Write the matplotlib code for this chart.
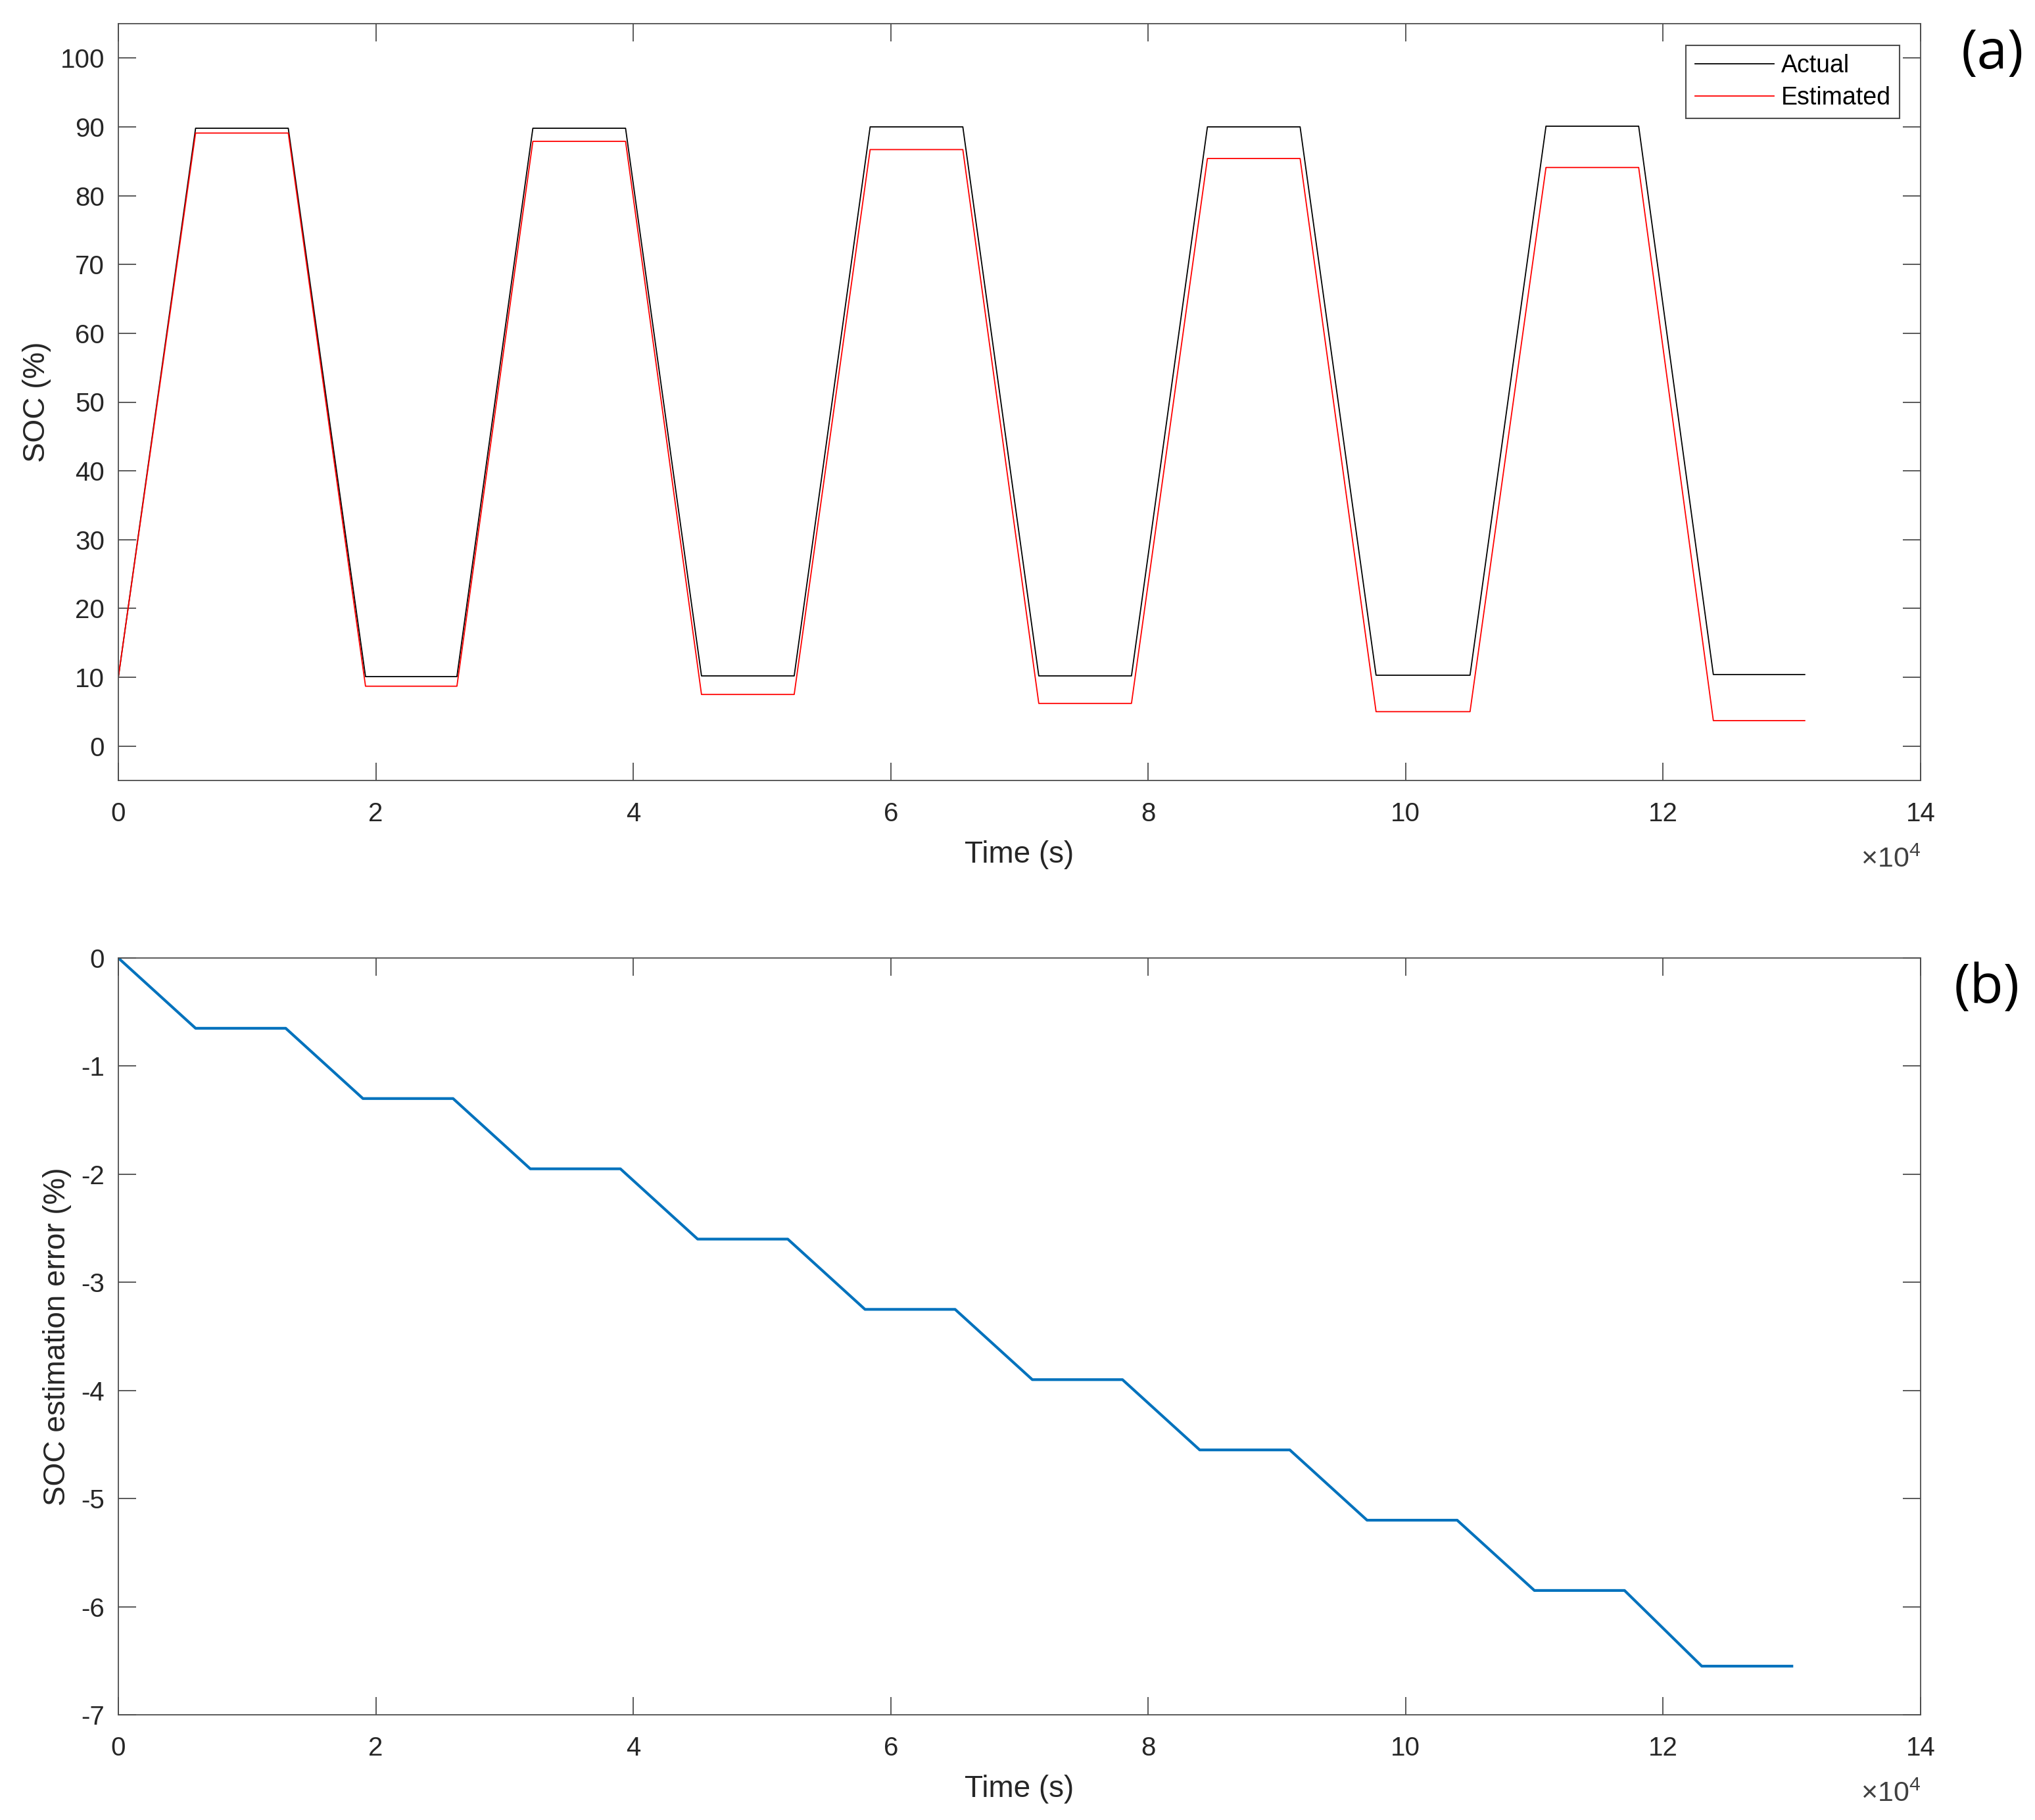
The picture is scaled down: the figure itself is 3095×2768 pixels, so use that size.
import numpy as np
import matplotlib
matplotlib.use('Agg')
import matplotlib.pyplot as plt
from matplotlib.ticker import FuncFormatter

plt.rcParams['font.family'] = ['Liberation Sans', 'DejaVu Sans']
plt.rcParams['mathtext.fontset'] = 'custom'
plt.rcParams['mathtext.rm'] = 'Liberation Sans'
plt.rcParams['axes.unicode_minus'] = False

# (a) SOC, time in seconds
t_soc = [0, 6000, 13200, 19200, 26300, 32200, 39400, 45300, 52500, 58400, 65600,
         71500, 78700, 84600, 91800, 97700, 105000, 110900, 118100, 123900, 131000]
soc_actual = [10, 89.8, 89.8, 10.1, 10.1, 89.8, 89.8, 10.2, 10.2, 90.0, 90.0,
              10.2, 10.2, 90.0, 90.0, 10.3, 10.3, 90.1, 90.1, 10.4, 10.4]
soc_est = [10, 89.1, 89.1, 8.7, 8.7, 87.9, 87.9, 7.5, 7.5, 86.7, 86.7,
           6.2, 6.2, 85.4, 85.4, 5.0, 5.0, 84.1, 84.1, 3.7, 3.7]

# (b) SOC estimation error
t_err = [0, 6000, 13000, 19000, 26000, 32000, 39000, 45000, 52000, 58000, 65000,
         71000, 78000, 84000, 91000, 97000, 104000, 110000, 117000, 123000, 130000]
err = [0, -0.65, -0.65, -1.3, -1.3, -1.95, -1.95, -2.6, -2.6, -3.25, -3.25,
       -3.9, -3.9, -4.55, -4.55, -5.2, -5.2, -5.85, -5.85, -6.55, -6.55]

axcol = '#4d4d4d'
txtcol = '#262626'

fig = plt.figure(figsize=(30.95, 27.68), dpi=100)
ax1 = fig.add_axes([180/3095, 1 - 1187/2768, 2741/3095, 1151/2768])
ax2 = fig.add_axes([180/3095, 1 - 2608/2768, 2741/3095, 1151/2768])

def style(ax):
    for s in ax.spines.values():
        s.set_color(axcol)
        s.set_linewidth(1.3)
    ax.tick_params(direction='in', top=True, right=True, length=19.5, width=1.3,
                   color=axcol, labelcolor=txtcol, labelsize=29)
    ax.tick_params(axis='x', pad=23)
    ax.tick_params(axis='y', pad=15)
    ax.set_xlim(0, 140000)
    ax.set_xticks(np.arange(0, 140001, 20000))
    ax.xaxis.set_major_formatter(FuncFormatter(lambda v, p: '%d' % round(v / 1e4)))
    ax.set_xlabel('Time (s)', fontsize=33, color=txtcol, labelpad=15)
    ax.annotate(r'$\times10^{4}$', xy=(1, 0), xycoords='axes fraction',
                xytext=(0, -95), textcoords='offset points', ha='right', va='baseline',
                fontsize=31, color='#404040')

ax1.plot(t_soc, soc_actual, color='black', linewidth=1.3, label='Actual')
ax1.plot(t_soc, soc_est, color='red', linewidth=1.3, label='Estimated')
style(ax1)
ax1.set_ylim(-5, 105)
ax1.set_yticks(np.arange(0, 101, 10))
ax1.set_ylabel('SOC (%)', fontsize=33, color=txtcol, labelpad=10)
leg = ax1.legend(loc='upper right', bbox_to_anchor=(0.9883, 0.9713), borderaxespad=0,
                 fontsize=27, handlelength=3.2, handletextpad=0.3, borderpad=0.35,
                 labelspacing=0.35, fancybox=False, framealpha=1)
leg.get_frame().set_edgecolor(axcol)
leg.get_frame().set_linewidth(1.5)

ax2.plot(t_err, err, color='#0072BD', linewidth=3.0)
style(ax2)
ax2.set_ylim(-7, 0)
ax2.set_yticks(np.arange(-7, 1, 1))
ax2.set_ylabel('SOC estimation error (%)', fontsize=33, color=txtcol, labelpad=10)

fig.text(3030/3095, 1 - 83/2768, '(a)', fontsize=60, family='Open Sans',
         ha='center', va='center', color='black')
fig.text(3022/3095, 1 - 1504/2768, '(b)', fontsize=60, family='Open Sans',
         ha='center', va='center', color='black')

fig.savefig('out.png', dpi=100, facecolor='white')
